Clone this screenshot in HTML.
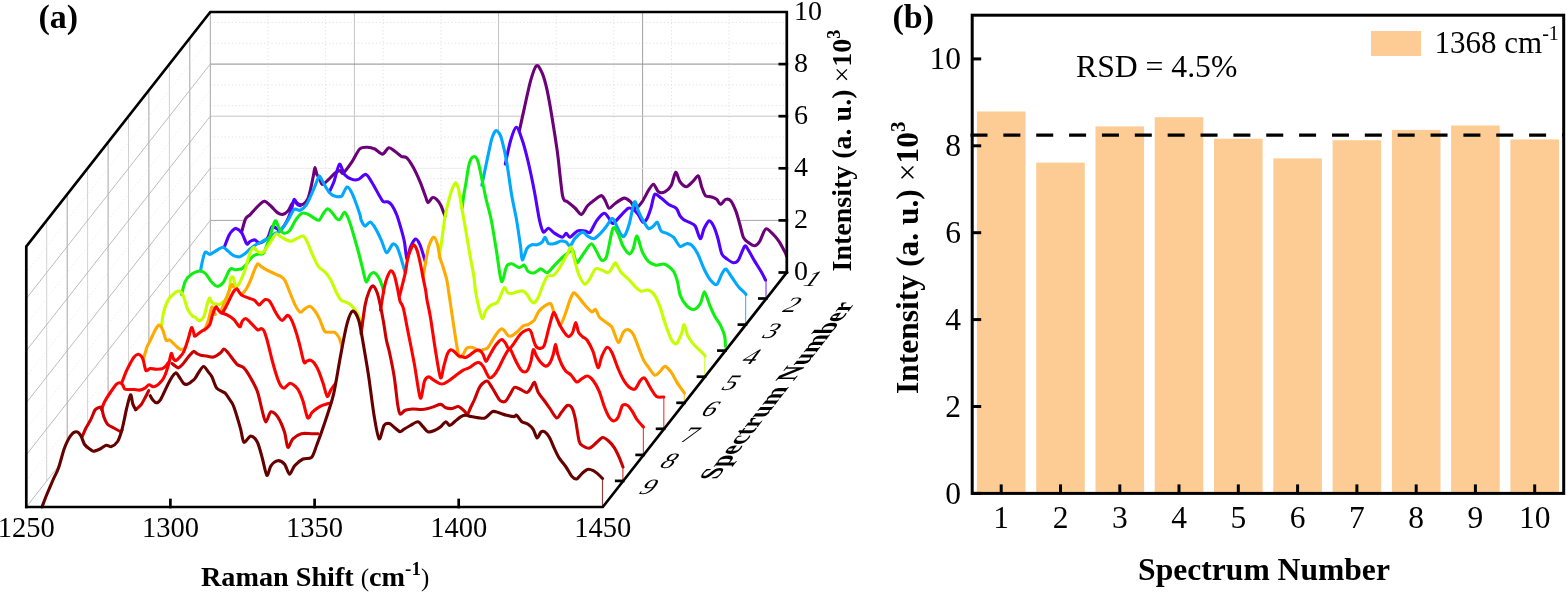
<!DOCTYPE html><html><head><meta charset="utf-8"><title>Raman spectra</title><style>html,body{margin:0;padding:0;background:#fff;}svg{display:block;}text{font-family:'Liberation Serif','Times New Roman',serif;fill:#000;}</style></head><body>
<svg width="1567" height="592" viewBox="0 0 1567 592">
<rect width="1567" height="592" fill="#fff"/>
<g id="grid" stroke-width="1" fill="none">
<style>.mj{stroke:#a4a4a4;stroke-width:1}.lw{stroke:#d2d2d2;stroke-width:1}.lwd{stroke:#b4b4b4;stroke-width:0.9}.mn{stroke:#d9d9d9;stroke-width:0.8;stroke-dasharray:1.2 2.4}.mn2{stroke:#e6e6e6;stroke-width:0.8;stroke-dasharray:1.2 2.4}</style>
<line x1="267.9" y1="272.5" x2="267.9" y2="12" class="mn"/>
<line x1="325.6" y1="272.5" x2="325.6" y2="12" class="mn"/>
<line x1="383.2" y1="272.5" x2="383.2" y2="12" class="mn"/>
<line x1="440.9" y1="272.5" x2="440.9" y2="12" class="mn"/>
<line x1="556.2" y1="272.5" x2="556.2" y2="12" class="mn"/>
<line x1="613.8" y1="272.5" x2="613.8" y2="12" class="mn"/>
<line x1="671.5" y1="272.5" x2="671.5" y2="12" class="mn"/>
<line x1="729.1" y1="272.5" x2="729.1" y2="12" class="mn"/>
<line x1="210.3" y1="22.4" x2="786.8" y2="22.4" class="mn"/>
<line x1="210.3" y1="43.2" x2="786.8" y2="43.2" class="mn"/>
<line x1="210.3" y1="84.9" x2="786.8" y2="84.9" class="mn"/>
<line x1="210.3" y1="105.7" x2="786.8" y2="105.7" class="mn"/>
<line x1="210.3" y1="137" x2="786.8" y2="137" class="mn"/>
<line x1="210.3" y1="157.8" x2="786.8" y2="157.8" class="mn"/>
<line x1="210.3" y1="178.7" x2="786.8" y2="178.7" class="mn"/>
<line x1="210.3" y1="199.5" x2="786.8" y2="199.5" class="mn"/>
<line x1="210.3" y1="230.8" x2="786.8" y2="230.8" class="mn"/>
<line x1="210.3" y1="251.6" x2="786.8" y2="251.6" class="mn"/>
<line x1="354.4" y1="272.5" x2="354.4" y2="12" stroke="#c4c4c4"/>
<line x1="498.5" y1="272.5" x2="498.5" y2="12" stroke="#c4c4c4"/>
<line x1="642.6" y1="272.5" x2="642.6" y2="12" stroke="#a0a0a0"/>
<line x1="210.3" y1="220.4" x2="786.8" y2="220.4" stroke="#a6a6a6"/>
<line x1="210.3" y1="168.3" x2="786.8" y2="168.3" stroke="#ebebeb"/>
<line x1="210.3" y1="116.2" x2="786.8" y2="116.2" stroke="#c4c4c4"/>
<line x1="210.3" y1="64.1" x2="786.8" y2="64.1" stroke="#8e8e8e"/>
<line x1="210.3" y1="272.5" x2="210.3" y2="12" class="mj"/>
<line x1="189.8" y1="298.5" x2="189.8" y2="38" class="mj"/>
<line x1="169.4" y1="324.6" x2="169.4" y2="64.1" class="lw"/>
<line x1="148.9" y1="350.6" x2="148.9" y2="90.1" class="mj"/>
<line x1="128.5" y1="376.7" x2="128.5" y2="116.2" class="lw"/>
<line x1="108.1" y1="402.8" x2="108.1" y2="142.3" class="mj"/>
<line x1="87.6" y1="428.8" x2="87.6" y2="168.3" class="lw"/>
<line x1="67.2" y1="454.9" x2="67.2" y2="194.4" class="mj"/>
<line x1="46.7" y1="480.9" x2="46.7" y2="220.4" class="lw"/>
<line x1="26.3" y1="507" x2="210.3" y2="272.5" class="lwd"/>
<line x1="26.3" y1="480.9" x2="210.3" y2="246.4" class="mn2"/>
<line x1="26.3" y1="454.9" x2="210.3" y2="220.4" class="lwd"/>
<line x1="26.3" y1="428.9" x2="210.3" y2="194.3" class="mn2"/>
<line x1="26.3" y1="402.8" x2="210.3" y2="168.3" class="lwd"/>
<line x1="26.3" y1="376.8" x2="210.3" y2="142.2" class="mn2"/>
<line x1="26.3" y1="350.7" x2="210.3" y2="116.2" class="lwd"/>
<line x1="26.3" y1="324.6" x2="210.3" y2="90.1" class="mn2"/>
<line x1="26.3" y1="298.6" x2="210.3" y2="64.1" class="lwd"/>
<line x1="26.3" y1="272.5" x2="210.3" y2="38" class="mn2"/>
</g>
<g id="fills" fill="#fff" stroke="none">
<polygon points="241.8,272.5 241.8,231.4 245.6,218.7 250,214.8 257.6,206.5 264.4,201.2 271.3,206.5 277.4,212.6 282.7,214.4 288,211 291.8,204.2 294.8,201.2 298.6,204.2 303.2,204.2 307.8,198.9 310.8,188.2 313.5,175 315,167.5 316.9,174.6 319,177 322.2,184.4 329,179.1 335.1,173 340,170.6 343.2,173.1 352.1,161.7 359.7,149 367.3,147.2 374.9,149 382.5,154.1 388.8,147.7 395.2,151.5 401.4,156.5 406.5,157.7 412.8,166.6 420.4,182.7 425.6,196.8 428.1,202.7 432.4,197.6 436.6,199.3 440.8,205.2 445,216.2 519.3,131.1 524.3,108.3 530.7,80.4 536.5,65.7 542.1,72.8 547.2,90.6 552.2,118.4 557.3,151.4 560,175 562.4,195 564.5,200.5 567.4,201.7 575,208 581.4,214.4 587.6,205.7 595.2,199.4 601.5,195.6 605.3,200.7 609.1,208.3 615.5,203.2 624.3,198.1 630.7,201.9 635.7,208.3 642.1,201.9 648.4,190.5 653.5,184.2 658.5,191.8 664.9,191.8 671.2,185.5 675.7,172.3 680,181.7 686.4,186.7 692.7,181.7 698.3,175.8 701.6,186.7 705.4,195.6 711.7,196.9 716.8,199.4 720.6,204.5 725.6,199.4 730.7,200.7 735.8,210.8 739.6,223.5 743.4,237.4 748.4,242.5 754.8,245.7 759.8,241.2 765.7,229 772.5,233.6 778.8,241.2 785.2,252.6 786.5,256 786.8,256 786.8,272.5"/>
<polygon points="224.2,298.5 224.2,247.3 228.9,235.5 232,231 236,228.4 241.9,233.1 246.7,243.8 250,241.5 254.6,239.9 259.1,243 264,241 268.2,236.9 271.3,227.8 272.8,226.2 276,228 280.4,230 286.5,221.7 291,211 294.1,199.6 297.1,204.2 300.2,205.7 329.3,192.1 334.3,180.7 339.4,164.2 344.5,174.4 352.1,179.4 358.4,179.4 366,174.4 372.4,183.2 380,196.8 383.4,201.8 387.6,201.8 391.8,205.2 396.9,215.3 401.1,228.9 404.5,242.4 407,259.3 410.4,247.4 415.5,239 419.7,244.1 423.1,254.2 425.6,262.6 505.3,164.1 510.4,141.3 516.2,127.3 521.8,138.7 528.1,161.5 534.5,192 539.6,220.7 543.4,232.1 548.4,228.3 554.8,233.4 562.4,237.2 566.2,233.4 570,237.2 577.6,230.8 585.1,231.1 590.1,232.3 596.5,220.9 604.1,213.3 609.1,218.4 612.9,223.5 620.5,215.9 628.1,208.3 633.2,209.5 638.3,214.6 642.8,222.2 647.1,218.4 650.9,208.3 654.7,194.3 661.1,198.1 668.7,204.5 676.3,208.3 680,215.9 683.8,219.7 688.9,222.2 695.2,226 700.3,238.7 704.1,228.5 709.2,220.9 714.2,227.3 718,238.7 721.8,253.9 726.9,258.9 733.2,262.7 738.3,260.2 744.6,246.3 748.4,250.1 754.8,261.4 761.1,271.6 765.5,280 766.3,280 766.3,298.5"/>
<polygon points="200.5,324.6 200.5,271 202.9,259.1 205.3,252 210,254.4 215.9,250.9 223,247.3 227.8,250.9 233.7,255.6 239.6,256.8 245.5,253.2 250,249 256.1,244.5 262.2,241.5 268.2,238.4 274,234 280.4,230.8 288,220.2 294.1,209.5 300.2,210.3 306.2,205 310.8,195.8 315.4,185.2 319.2,176.1 323,182.2 327.5,189.8 332.1,195.1 336.7,196.6 340,196.6 342,195.9 347,187 352.1,193.4 359.7,213.7 361.1,220 365.1,226.1 370.2,222 375.3,228.1 381.4,240.3 386.6,252.8 392.7,244.1 396.9,246.6 400.3,255.9 402.8,264.3 405.3,272.8 481.8,185.2 485,170 488.9,151.4 492,138 496,130.6 499,133 501.5,138.7 506.6,161.5 511.7,195.3 516.7,220.7 520.5,246 522.3,260 526.9,248.6 532,244.8 537,244.8 542.1,242.2 545.1,237.2 548.4,243.5 554.8,243.5 561.1,241 566.2,242.2 570,246 575,238.4 582.7,232.1 587.6,236.1 593.9,238.7 600.3,233.6 606.6,226 612.4,218.4 616.7,226 620.5,233.6 624.3,236.1 629.4,223.5 634.5,201.9 638.3,210.8 643.3,220.9 648.4,228.5 653.5,226 657.3,222.2 661.1,231.1 667.4,233.6 673.7,237.4 680,246.3 686.4,243.7 691.5,245 697.8,253.9 704.1,269 710.4,280 716.8,284.5 721.8,274 725.8,269 732,277.5 738.5,286.7 744.8,293 745.9,294.5 745.9,294.5 745.9,324.6"/>
<polygon points="181.6,350.6 181.6,294.6 185.2,281.6 191.1,274.5 199.4,271 205.3,273.3 211.2,281.6 217.1,286.3 223,282.8 228.9,271 231.3,268.6 234.8,269.8 238,269.4 241.9,268.6 246.7,263.9 250,259.1 255,255 259,254 263.7,252.9 269.8,236.9 275.1,220.9 278.9,227.8 283.4,233.1 289.5,230.8 295.6,220.2 301.7,213.3 307.8,214.1 313.8,217.9 319.2,220.2 323,214.1 327.5,208.8 332.1,212.6 336.7,218.6 340,219.4 344.5,212.4 348.9,220 354,236.2 359.1,254.5 363.1,270.7 366.2,281.8 370.2,274.7 374.3,272.7 379.3,278.8 382.4,286.9 383.8,293 462.2,208 463.5,197 466,182.7 468.6,166.6 471,159 474.2,156.5 477,159 478.7,164.1 482.5,181.8 486.3,200 491.4,220.7 496.5,251.1 501.5,281.5 506.6,266.3 511.7,263.8 519.3,267.6 524.3,265.1 528.1,271.4 534.5,272.7 540.8,268.9 547.2,272.7 554.8,265.1 562.4,257.5 568.7,252.4 572.5,249.8 576.3,262.5 580,258.9 585.1,251.3 591.4,243.7 596.5,251.3 601.5,260.2 606.6,256.4 612.9,228.5 618,233.6 623.1,246.3 629.4,253.9 633.2,248.8 637,236.1 642.1,251.3 648.4,261.4 656,265.2 663.6,264 668.7,266.5 673.7,271.6 677.5,281.7 680.3,295.5 686.6,305.6 694.2,309.4 700.6,303.1 704.4,291.7 709.4,304.3 714.5,315.7 720.8,325.9 724.6,336 725.4,346 725.4,346 725.4,350.6"/>
<polygon points="161.5,376.7 161.5,325.4 163.9,311.2 168.6,299.4 175.7,292.3 179.3,291.1 182.8,294.6 187.5,308.8 192.3,315.9 195.2,317.3 199.4,320.7 204.1,315.9 207.5,303 209.6,297.9 211.5,301.7 213.8,303.8 217.1,304.1 219.7,304.6 223,301.7 224.8,300.4 228.9,292.3 230.7,278.5 233.2,277.6 235.8,286.9 239.2,283.5 243.4,274.2 245.5,268.6 250,253 253.8,247.5 256.8,251 262.1,252.9 265,250 269.8,243 276,234 280,236.2 285.1,239.3 291.1,241.3 297.2,238.2 303.3,236 307.4,242.3 312.4,254.5 318.5,266.6 325.6,272.7 330.7,279.8 335.7,291 340.8,300.1 345.9,302.1 351,305.1 356,311.2 360.1,319.3 362.7,325.8 439.1,257.6 441.7,240.7 445,217 448.4,201.8 451.8,190 455.4,182.7 458.5,189 461.9,208.6 466.1,232.2 470.4,257.6 473.8,276.1 475.4,290 478.7,306.9 482.3,318.6 486.1,310.1 491.2,305.1 497.1,302.5 500.1,296.9 504.3,287.6 507.7,292.7 511.9,293.5 517,291.8 522.9,291 527.1,294.4 530.5,300.3 533.9,302.8 538.1,297.7 542.3,286.8 547.2,276.5 553.5,275.2 559.8,267.6 567.4,253.7 571.2,247.3 575,262 579,275 584.5,284 589,280 595.5,268.9 601.8,270.1 608.1,272.7 612,268 615.5,263 620.8,272 628.3,279 635.8,287.4 641,291.2 648,290 654.5,295 660,306.9 665.1,323.3 671.5,339.8 676.5,343.6 681.6,333.5 684.1,324.6 687.9,336 693,343.6 699.3,349.9 704.4,355 705,356 705,356 705,376.7"/>
<polygon points="143.4,402.8 143.4,359.3 146.8,347.4 150,341 154.1,332.2 158.1,325.6 160.6,326.1 163.2,331.1 166.2,340.3 169.3,339.8 172.8,342.8 176.3,346.3 180.4,349.4 184.4,348.9 204.5,330.5 208.5,319.9 211.9,307 213.9,311.8 215.3,314.5 220.7,311.8 224.1,303.6 227.4,295.5 231.5,284.7 233.5,287 241.6,294.9 246.4,288.8 250.4,280.7 254.5,269.9 257.8,263.8 261.2,266.5 266.6,269.9 275,273.9 281.4,276.8 285.1,280.8 290.1,293 295.2,305.1 300.3,312.2 304.3,309.2 309.4,306.2 314.2,310 319.7,319.3 324.4,331 329,332.3 334.6,332.3 339.2,337.9 342,347.2 423.1,277.8 426,260 429,245.7 433.7,237 437.4,244.1 440,257.6 443.3,267.7 446.7,279.5 448.4,290 452.4,316.9 455.7,338.9 459.1,356.6 463.3,354.1 466.7,348.1 470.9,347.3 474.7,348.4 479.5,351.3 483,349.6 487.7,347.8 492.5,340.1 497.2,333 501.3,328.9 504.3,330.6 507.8,335.4 511.4,336 517.3,331.8 523.2,325.9 527.9,324.7 531.5,322.4 534.4,320 538.9,311.3 545.7,305.3 550.7,303.6 553.3,310.4 558.5,322 560.5,325 565.1,314.5 569.8,300.4 573.7,292.8 578.5,297 584,304 591.7,311.9 595.5,309.4 599.3,317 605.6,322.1 611.9,327.1 618.3,342.3 623.3,332.2 628.4,329.7 633.5,334.7 638.5,347.4 643.6,360.1 648.7,367.6 655,375.2 660.1,371.4 665.1,366.4 671.5,372.7 676.5,381.6 681.6,389.2 684.4,393 684.6,393 684.6,402.8"/>
<polygon points="121.9,428.8 121.9,382.5 126,371.9 130,363.8 134.1,357 138.1,354.3 141.5,356.4 143.5,361.1 145.9,370.5 150,368.6 156,369.2 162,368.8 166.2,365.6 168,363 174.5,360 176.3,360.5 179.4,357.5 183.4,352.4 186.5,344.3 189,336.2 191.5,327.6 193.6,332.2 194.6,336.2 197.6,334.2 202.7,330.6 206.7,328.1 210,324.1 212.6,314.5 215.9,307 218.6,310.4 222,313.1 226.1,306.4 230.1,298.2 234.2,290.8 236.9,288.8 239.6,292.8 242.3,295.5 249.1,298.2 254.5,300.3 259.2,305 261.9,302.3 265.3,299.6 269.3,300.9 272.7,306.4 274.6,310.6 278.5,317 282.2,320.5 287.2,315.5 290.1,317.3 294.4,327 299.3,343.4 303.9,362 306.7,361.1 310.4,360.2 314.2,363 318.8,371.3 323.4,384.3 327.2,396.4 330.9,389.9 335.5,383.4 399.5,296 401.1,290 405.3,272.8 407.9,257.6 411.3,248.3 413.8,244.9 417.2,250.8 420.5,264.3 423.1,277.8 425.6,290 427,300 430.4,316.9 435.5,350.7 440.5,377.7 443.9,365.9 447.3,354.1 450.7,349.8 454.1,351.5 458.3,355.7 461.7,356.6 465.9,357.4 470,354.9 474.7,351.3 479.5,350.2 483,354.3 486,361.4 488.9,356.7 493.6,348.4 498.4,341.9 501.9,339.5 505.5,343.1 509,349 513.8,343.6 518.5,336.6 523.2,331.8 529.1,329.5 531.5,333 533.9,341.3 536.2,346.6 540,348.4 544,345.9 548.2,330.7 553.3,312.9 556.7,318 560,325.6 564.3,332.4 568.5,336.6 572.7,332.4 575.7,322.6 578.6,332.4 582.8,337 587,340 592.9,351.2 598,367.6 601.8,356.3 606.9,347.4 611.9,352.5 618.3,369 623,379 629,387 635,389 640,381 644.5,378 650.5,388 656.5,396.5 663.8,397 664.1,397 664.1,428.8"/>
<polygon points="101.6,454.9 101.6,409.7 104,403 107,397.6 112.4,389.5 116.5,384.1 119.9,382.7 122.6,384.7 124.6,388.8 128.6,389.5 134.1,389.5 139.5,390.1 144.9,388.1 148.9,384.7 153,386.8 157,385.4 160,382.7 163.4,378.5 166.4,371.4 169.2,362 171.3,353.4 173.3,358.5 174.5,360 222,313.1 228.8,315.8 234.2,319.9 238.2,325.3 240.3,326.6 242.3,321.2 245.7,318.5 249.1,321.2 253.1,325.3 257.8,330 261.2,328.6 263.9,330.7 267.6,342 272.6,362 277.7,379 281,386 284.5,388.1 289.5,383.4 293.7,385 298.4,389.9 303,401 307.7,417.8 312.3,412.2 319.7,406.6 327.2,403.8 330.9,402.9 380.5,310 384.4,286.9 387.4,276.8 391,270.7 394.5,275.7 397.6,288.9 400,301.1 403.4,308.4 408.4,333.8 414.4,364.2 420.3,398 424.5,381.1 428.7,376.9 433.8,380.2 439.7,383.6 443.9,383.6 450.7,379.4 457.4,374.3 463.3,370.1 467.6,368.4 470,367.3 474.7,363.8 478.9,362.6 483,366.1 486.6,373.2 489.5,377.9 493.6,375.6 498.4,368.5 503.1,359 507.8,350.7 510.2,349 513.8,356.7 517.3,363.8 520.8,369.7 524.4,372 527.9,369.7 530.9,361.4 533.3,349.6 536.2,355.5 540,361.4 545.7,366.1 549.9,362.8 553.3,354.3 555.5,344.2 557.8,354.3 561.7,364.5 565.9,371.2 571,375 576.5,382 581.4,379 587.3,376 593.3,380.7 599.2,391.3 603.9,405.5 608.6,416.2 613.4,420.9 618.1,417.3 622.4,405.5 627.6,405.5 632.3,411.4 637,419.7 643.4,427 643.7,427 643.7,454.9"/>
<polygon points="82.1,480.9 82.1,436.9 86,428 91,419.1 95,410 98.6,407.7 101.6,407.7 103.7,416.6 107.5,424.2 113.8,428 120.1,431.3 122,430 135.7,409.7 141.1,404.8 145.1,397.7 148.7,390.6 172,363.5 175.6,366.3 178.6,367.8 182.7,364.3 186,360 189.5,355.5 193.6,351.4 196.6,353.4 200.7,355.2 206.7,356 213.6,357 220.6,352.8 223.8,349 227,351.5 230.5,356 237.2,364.5 243.9,367.8 250.7,378 257.4,391.5 262.5,411.8 265.9,421.9 270.9,411.8 277.7,416.8 284.5,432 287.8,447.2 292.9,438.8 301.4,433.7 311.5,433.7 318.2,433.7 361.1,333.5 365.1,305.1 369.2,291 373.2,285.9 377.3,293 380.3,305.1 383.4,321.4 386.4,340 389.4,352 394.1,376 397.6,404 400.1,414.1 405.2,410.3 412.8,409 421.7,409.5 428,408.5 434.4,406.5 440.7,404.4 445.8,407.7 452.1,408.5 458.4,406.5 464.8,411.5 467.3,414.5 471.1,406.5 474.3,400 478.7,389 482,384 487.3,381.1 492,387.5 497,396 500,400.5 505.3,401.4 510.4,393.8 514.2,387.5 519.3,388.7 526.9,392.5 531,388 534.5,382.4 538.3,392.5 544.6,401 549.5,407.9 556.6,418 561.3,412.6 567.2,405.5 572,407.9 575.5,419.7 579.1,441 582.6,445.7 589.7,448.1 596.8,442.2 602.7,437.5 608.6,441 614.6,448.1 619.3,457.6 623,467 623.2,467 623.2,480.9"/>
<polygon points="42,507 42,507 47,494 53,480 58.5,468 64.4,448.3 70.7,435.6 76.3,431.8 80.8,435.6 84.6,444.5 89.7,449 93.5,451.2 100,449 106.2,445.3 111.3,446.6 117.6,441.5 121.4,431.8 124.4,419 126.5,409 130.5,394.8 132.8,403.9 135.7,409.7 150.2,395.7 152.7,399.8 156.3,402.8 160.4,399.8 165.4,389.6 170.5,379.5 175.6,372.9 179.6,377.5 183.7,383.5 187.3,384.2 191,382 194.9,378.6 199,372 203.6,366.5 208.9,372.6 212,377 216.5,387.8 222.5,391.6 225.3,393.2 230,400 233.8,406.7 240.5,428.6 243.9,442.2 250.7,436.1 257.4,442.2 262.5,459 266.9,475.3 270.9,465.8 277.7,460.7 284.5,464.1 289.5,474.3 294.6,465.8 303,459 311.5,457.4 316.6,445.5 325,421.9 333.4,394.9 340.2,357.7 347,323.9 352.7,311.1 358.8,320.5 363.9,347.6 368.9,378 374,415.1 379.1,438.8 384.1,425.3 389.2,423.6 395.1,428 400.1,431.8 403.9,429.3 410.3,425.5 417.9,421.7 423,426.7 428,431.8 434.4,430.5 440.7,426.7 445.8,421.7 449.6,425.5 454.6,421.7 461,416.6 466,415.3 471.1,416.6 478.7,417.9 485.1,417.9 492.7,411.5 499,412.8 506.6,415.3 514.2,416.6 516.7,415.3 521.8,421.7 528.1,424.2 533.2,429.3 537,438 541,432 545,432 549.5,437.5 554.2,448.1 558.9,457.6 566,467 572,476.5 576.7,478.9 581.4,474.1 587.3,469.4 593.3,470.6 598,474.1 602.5,478.5 602.8,478.5 602.8,507"/>
</g>
<g id="drops" stroke-width="1.2" fill="none">
<line x1="786.5" y1="256" x2="786.5" y2="272.5" stroke="#6c0078" stroke-opacity="0.75"/>
<line x1="766" y1="280" x2="766" y2="298.5" stroke="#5200ff" stroke-opacity="0.75"/>
<line x1="745.6" y1="294.5" x2="745.6" y2="324.6" stroke="#00a8ff" stroke-opacity="0.75"/>
<line x1="725.1" y1="346" x2="725.1" y2="350.6" stroke="#10f010" stroke-opacity="0.75"/>
<line x1="704.7" y1="356" x2="704.7" y2="376.7" stroke="#c4ff00" stroke-opacity="0.75"/>
<line x1="684.3" y1="393" x2="684.3" y2="402.8" stroke="#ffaa00" stroke-opacity="0.75"/>
<line x1="663.8" y1="397" x2="663.8" y2="428.8" stroke="#ff0000" stroke-opacity="0.75"/>
<line x1="643.4" y1="427" x2="643.4" y2="454.9" stroke="#ff0000" stroke-opacity="0.75"/>
<line x1="622.9" y1="467" x2="622.9" y2="480.9" stroke="#cc0000" stroke-opacity="0.75"/>
<line x1="602.5" y1="478.5" x2="602.5" y2="507" stroke="#660000" stroke-opacity="0.75"/>
</g>
<g id="lines" fill="none" stroke-width="3.1" stroke-linejoin="round" stroke-linecap="round">
<path d="M241.8,231.4C242.3,229.6 244.4,221.1 245.6,218.7C246.8,216.3 248.3,216.5 250,214.8C251.7,213.1 255.6,208.4 257.6,206.5C259.6,204.6 262.5,201.2 264.4,201.2C266.3,201.2 269.5,204.9 271.3,206.5C273.1,208.1 275.8,211.5 277.4,212.6C279,213.7 281.2,214.6 282.7,214.4C284.2,214.2 286.7,212.4 288,211C289.3,209.6 290.8,205.6 291.8,204.2C292.8,202.8 293.8,201.2 294.8,201.2C295.8,201.2 297.4,203.8 298.6,204.2C299.8,204.6 301.9,205 303.2,204.2C304.5,203.4 306.7,201.2 307.8,198.9C308.9,196.6 310,191.6 310.8,188.2C311.6,184.8 312.9,177.9 313.5,175C314.1,172.1 314.5,167.6 315,167.5C315.5,167.4 316.3,173.3 316.9,174.6C317.5,175.9 318.2,175.6 319,177C319.8,178.4 320.8,184.1 322.2,184.4C323.6,184.7 327.2,180.7 329,179.1C330.8,177.5 333.5,174.2 335.1,173C336.7,171.8 338.9,170.6 340,170.6C341.1,170.6 341.5,174.4 343.2,173.1C344.9,171.8 349.8,165.1 352.1,161.7C354.4,158.3 357.5,151.1 359.7,149C361.9,146.9 365.1,147.2 367.3,147.2C369.5,147.2 372.7,148 374.9,149C377.1,150 380.5,154.3 382.5,154.1C384.5,153.9 387,148.1 388.8,147.7C390.6,147.3 393.4,150.3 395.2,151.5C397,152.7 399.8,155.6 401.4,156.5C403,157.4 404.9,156.3 406.5,157.7C408.1,159.1 410.8,163.1 412.8,166.6C414.8,170.1 418.6,178.4 420.4,182.7C422.2,187 424.5,194 425.6,196.8C426.7,199.6 427.1,202.6 428.1,202.7C429.1,202.8 431.2,198.1 432.4,197.6C433.6,197.1 435.4,198.2 436.6,199.3C437.8,200.4 439.6,202.8 440.8,205.2C442,207.6 444.4,214.6 445,216.2" stroke="#6c0078"/>
<path d="M519.3,131.1C520,127.9 522.7,115.5 524.3,108.3C525.9,101.1 529,86.4 530.7,80.4C532.4,74.4 534.9,66.8 536.5,65.7C538.1,64.6 540.6,69.3 542.1,72.8C543.6,76.3 545.8,84.1 547.2,90.6C548.6,97.1 550.8,109.8 552.2,118.4C553.6,127 556.2,143.4 557.3,151.4C558.4,159.4 559.3,168.8 560,175C560.7,181.2 561.8,191.4 562.4,195C563,198.6 563.8,199.6 564.5,200.5C565.2,201.4 565.9,200.6 567.4,201.7C568.9,202.8 573,206.2 575,208C577,209.8 579.6,214.7 581.4,214.4C583.2,214.1 585.6,207.8 587.6,205.7C589.6,203.6 593.2,200.8 595.2,199.4C597.2,198 600.1,195.4 601.5,195.6C602.9,195.8 604.2,198.9 605.3,200.7C606.4,202.5 607.7,207.9 609.1,208.3C610.5,208.7 613.3,204.6 615.5,203.2C617.7,201.8 622.1,198.3 624.3,198.1C626.5,197.9 629.1,200.5 630.7,201.9C632.3,203.3 634.1,208.3 635.7,208.3C637.3,208.3 640.3,204.4 642.1,201.9C643.9,199.4 646.8,193 648.4,190.5C650,188 652.1,184 653.5,184.2C654.9,184.4 656.9,190.7 658.5,191.8C660.1,192.9 663.1,192.7 664.9,191.8C666.7,190.9 669.7,188.3 671.2,185.5C672.7,182.7 674.5,172.8 675.7,172.3C676.9,171.8 678.5,179.7 680,181.7C681.5,183.7 684.6,186.7 686.4,186.7C688.2,186.7 691,183.2 692.7,181.7C694.4,180.2 697,175.1 698.3,175.8C699.6,176.5 700.6,183.9 701.6,186.7C702.6,189.5 704,194.2 705.4,195.6C706.8,197 710.1,196.4 711.7,196.9C713.3,197.4 715.5,198.3 716.8,199.4C718.1,200.5 719.4,204.5 720.6,204.5C721.8,204.5 724.2,199.9 725.6,199.4C727,198.9 729.3,199.1 730.7,200.7C732.1,202.3 734.5,207.6 735.8,210.8C737.1,214 738.5,219.7 739.6,223.5C740.7,227.3 742.2,234.7 743.4,237.4C744.6,240.1 746.8,241.3 748.4,242.5C750,243.7 753.2,245.9 754.8,245.7C756.4,245.5 758.3,243.6 759.8,241.2C761.3,238.8 763.9,230.1 765.7,229C767.5,227.9 770.6,231.9 772.5,233.6C774.4,235.3 777,238.5 778.8,241.2C780.6,243.9 784.1,250.5 785.2,252.6C786.3,254.7 786.3,255.5 786.5,256" stroke="#6c0078"/>
<path d="M224.2,247.3C224.9,245.6 227.8,237.8 228.9,235.5C230,233.2 231,232 232,231C233,230 234.6,228.1 236,228.4C237.4,228.7 240.4,230.9 241.9,233.1C243.4,235.3 245.6,242.6 246.7,243.8C247.8,245 248.9,242.1 250,241.5C251.1,240.9 253.3,239.7 254.6,239.9C255.9,240.1 257.8,242.8 259.1,243C260.4,243.2 262.7,241.9 264,241C265.3,240.1 267.2,238.8 268.2,236.9C269.2,235 270.6,229.3 271.3,227.8C272,226.3 272.1,226.2 272.8,226.2C273.5,226.2 274.9,227.5 276,228C277.1,228.5 278.9,230.9 280.4,230C281.9,229.1 285,224.4 286.5,221.7C288,219 289.9,214.1 291,211C292.1,207.9 293.2,200.6 294.1,199.6C295,198.6 296.2,203.3 297.1,204.2C298,205.1 299.8,205.5 300.2,205.7" stroke="#5200ff"/>
<path d="M329.3,192.1C330,190.5 332.9,184.7 334.3,180.7C335.7,176.7 338,165.1 339.4,164.2C340.8,163.3 342.7,172.2 344.5,174.4C346.3,176.6 350.1,178.7 352.1,179.4C354.1,180.1 356.4,180.1 358.4,179.4C360.4,178.7 364,173.9 366,174.4C368,174.9 370.4,180 372.4,183.2C374.4,186.4 378.4,194.2 380,196.8C381.6,199.4 382.3,201.1 383.4,201.8C384.5,202.5 386.4,201.3 387.6,201.8C388.8,202.3 390.5,203.3 391.8,205.2C393.1,207.1 395.6,211.9 396.9,215.3C398.2,218.7 400,225.1 401.1,228.9C402.2,232.7 403.7,238.1 404.5,242.4C405.3,246.7 406.2,258.6 407,259.3C407.8,260 409.2,250.3 410.4,247.4C411.6,244.5 414.2,239.5 415.5,239C416.8,238.5 418.6,241.9 419.7,244.1C420.8,246.3 422.3,251.6 423.1,254.2C423.9,256.8 425.2,261.4 425.6,262.6" stroke="#5200ff"/>
<path d="M505.3,164.1C506,160.9 508.9,146.5 510.4,141.3C511.9,136.1 514.6,127.7 516.2,127.3C517.8,126.9 520.1,133.9 521.8,138.7C523.5,143.5 526.3,153.9 528.1,161.5C529.9,169.1 532.9,183.6 534.5,192C536.1,200.4 538.3,215 539.6,220.7C540.9,226.4 542.2,231 543.4,232.1C544.6,233.2 546.8,228.1 548.4,228.3C550,228.5 552.8,232.1 554.8,233.4C556.8,234.7 560.8,237.2 562.4,237.2C564,237.2 565.1,233.4 566.2,233.4C567.3,233.4 568.4,237.6 570,237.2C571.6,236.8 575.5,231.7 577.6,230.8C579.7,229.9 583.3,230.9 585.1,231.1C586.9,231.3 588.5,233.7 590.1,232.3C591.7,230.9 594.5,223.6 596.5,220.9C598.5,218.2 602.3,213.7 604.1,213.3C605.9,212.9 607.9,217 609.1,218.4C610.3,219.8 611.3,223.9 612.9,223.5C614.5,223.1 618.3,218.1 620.5,215.9C622.7,213.7 626.3,209.2 628.1,208.3C629.9,207.4 631.8,208.6 633.2,209.5C634.6,210.4 636.9,212.8 638.3,214.6C639.7,216.4 641.6,221.7 642.8,222.2C644,222.7 646,220.4 647.1,218.4C648.2,216.4 649.8,211.7 650.9,208.3C652,204.9 653.3,195.7 654.7,194.3C656.1,192.9 659.1,196.7 661.1,198.1C663.1,199.5 666.5,203.1 668.7,204.5C670.9,205.9 674.7,206.7 676.3,208.3C677.9,209.9 678.9,214.3 680,215.9C681.1,217.5 682.5,218.8 683.8,219.7C685.1,220.6 687.3,221.3 688.9,222.2C690.5,223.1 693.6,223.7 695.2,226C696.8,228.3 699,238.3 700.3,238.7C701.6,239.1 702.8,231 704.1,228.5C705.4,226 707.8,221.1 709.2,220.9C710.6,220.7 713,224.8 714.2,227.3C715.4,229.8 716.9,234.9 718,238.7C719.1,242.5 720.5,251 721.8,253.9C723.1,256.8 725.3,257.7 726.9,258.9C728.5,260.1 731.6,262.5 733.2,262.7C734.8,262.9 736.7,262.5 738.3,260.2C739.9,257.9 743.2,247.7 744.6,246.3C746,244.9 747,248 748.4,250.1C749.8,252.2 753,258.4 754.8,261.4C756.6,264.4 759.6,269 761.1,271.6C762.6,274.2 764.9,278.8 765.5,280" stroke="#5200ff"/>
<path d="M200.5,271C200.8,269.3 202.2,261.8 202.9,259.1C203.6,256.4 204.3,252.7 205.3,252C206.3,251.3 208.5,254.6 210,254.4C211.5,254.2 214.1,251.9 215.9,250.9C217.7,249.9 221.3,247.3 223,247.3C224.7,247.3 226.3,249.7 227.8,250.9C229.3,252.1 232,254.8 233.7,255.6C235.4,256.4 237.9,257.1 239.6,256.8C241.3,256.5 244,254.3 245.5,253.2C247,252.1 248.5,250.2 250,249C251.5,247.8 254.4,245.6 256.1,244.5C257.8,243.4 260.5,242.4 262.2,241.5C263.9,240.6 266.5,239.5 268.2,238.4C269.9,237.3 272.3,235.1 274,234C275.7,232.9 278.4,232.8 280.4,230.8C282.4,228.8 286.1,223.2 288,220.2C289.9,217.2 292.4,210.9 294.1,209.5C295.8,208.1 298.5,210.9 300.2,210.3C301.9,209.7 304.7,207.1 306.2,205C307.7,202.9 309.5,198.6 310.8,195.8C312.1,193 314.2,188 315.4,185.2C316.6,182.4 318.1,176.5 319.2,176.1C320.3,175.7 321.8,180.3 323,182.2C324.2,184.1 326.2,188 327.5,189.8C328.8,191.6 330.8,194.1 332.1,195.1C333.4,196.1 335.6,196.4 336.7,196.6C337.8,196.8 339.2,196.7 340,196.6C340.8,196.5 341,197.3 342,195.9C343,194.5 345.6,187.4 347,187C348.4,186.6 350.3,189.6 352.1,193.4C353.9,197.2 358.4,209.9 359.7,213.7C361,217.5 360.3,218.2 361.1,220C361.9,221.8 363.8,225.8 365.1,226.1C366.4,226.4 368.8,221.7 370.2,222C371.6,222.3 373.7,225.5 375.3,228.1C376.9,230.7 379.8,236.8 381.4,240.3C383,243.8 385,252.3 386.6,252.8C388.2,253.3 391.2,245 392.7,244.1C394.2,243.2 395.8,244.9 396.9,246.6C398,248.3 399.5,253.4 400.3,255.9C401.1,258.4 402.1,261.9 402.8,264.3C403.5,266.7 404.9,271.6 405.3,272.8" stroke="#00a8ff"/>
<path d="M481.8,185.2C482.3,183 484,174.8 485,170C486,165.2 487.9,155.9 488.9,151.4C489.9,146.9 491,140.9 492,138C493,135.1 495,131.3 496,130.6C497,129.9 498.2,131.9 499,133C499.8,134.1 500.4,134.7 501.5,138.7C502.6,142.7 505.2,153.5 506.6,161.5C508,169.5 510.3,186.9 511.7,195.3C513.1,203.7 515.5,213.5 516.7,220.7C517.9,227.9 519.7,240.4 520.5,246C521.3,251.6 521.4,259.6 522.3,260C523.2,260.4 525.5,250.8 526.9,248.6C528.3,246.4 530.6,245.3 532,244.8C533.4,244.3 535.6,245.2 537,244.8C538.4,244.4 541,243.3 542.1,242.2C543.2,241.1 544.2,237 545.1,237.2C546,237.4 547,242.6 548.4,243.5C549.8,244.4 553,243.9 554.8,243.5C556.6,243.1 559.5,241.2 561.1,241C562.7,240.8 564.9,241.5 566.2,242.2C567.5,242.9 568.8,246.5 570,246C571.2,245.5 573.2,240.4 575,238.4C576.8,236.4 580.9,232.4 582.7,232.1C584.5,231.8 586,235.2 587.6,236.1C589.2,237 592.1,239.1 593.9,238.7C595.7,238.3 598.5,235.4 600.3,233.6C602.1,231.8 604.9,228.2 606.6,226C608.3,223.8 611,218.4 612.4,218.4C613.8,218.4 615.6,223.8 616.7,226C617.8,228.2 619.4,232.2 620.5,233.6C621.6,235 623,237.5 624.3,236.1C625.6,234.7 628,228.3 629.4,223.5C630.8,218.7 633.2,203.7 634.5,201.9C635.8,200.1 637.1,208.1 638.3,210.8C639.5,213.5 641.9,218.4 643.3,220.9C644.7,223.4 647,227.8 648.4,228.5C649.8,229.2 652.2,226.9 653.5,226C654.8,225.1 656.2,221.5 657.3,222.2C658.4,222.9 659.7,229.5 661.1,231.1C662.5,232.7 665.6,232.7 667.4,233.6C669.2,234.5 671.9,235.6 673.7,237.4C675.5,239.2 678.2,245.4 680,246.3C681.8,247.2 684.8,243.9 686.4,243.7C688,243.5 689.9,243.6 691.5,245C693.1,246.4 696,250.5 697.8,253.9C699.6,257.3 702.3,265.3 704.1,269C705.9,272.7 708.6,277.8 710.4,280C712.2,282.2 715.2,285.4 716.8,284.5C718.4,283.6 720.5,276.2 721.8,274C723.1,271.8 724.4,268.5 725.8,269C727.2,269.5 730.2,275 732,277.5C733.8,280 736.7,284.5 738.5,286.7C740.3,288.9 743.8,291.9 744.8,293C745.8,294.1 745.7,294.3 745.9,294.5" stroke="#00a8ff"/>
<path d="M181.6,294.6C182.1,292.8 183.9,284.4 185.2,281.6C186.5,278.8 189.1,276 191.1,274.5C193.1,273 197.4,271.2 199.4,271C201.4,270.8 203.6,271.8 205.3,273.3C207,274.8 209.5,279.8 211.2,281.6C212.9,283.4 215.4,286.1 217.1,286.3C218.8,286.5 221.3,285 223,282.8C224.7,280.6 227.7,273 228.9,271C230.1,269 230.5,268.8 231.3,268.6C232.1,268.4 233.9,269.7 234.8,269.8C235.7,269.9 237,269.6 238,269.4C239,269.2 240.7,269.4 241.9,268.6C243.1,267.8 245.6,265.2 246.7,263.9C247.8,262.6 248.8,260.4 250,259.1C251.2,257.8 253.7,255.7 255,255C256.3,254.3 257.8,254.3 259,254C260.2,253.7 262.2,255.3 263.7,252.9C265.2,250.5 268.2,241.4 269.8,236.9C271.4,232.4 273.8,222.2 275.1,220.9C276.4,219.6 277.7,226.1 278.9,227.8C280.1,229.5 281.9,232.7 283.4,233.1C284.9,233.5 287.8,232.6 289.5,230.8C291.2,229 293.9,222.7 295.6,220.2C297.3,217.7 300,214.2 301.7,213.3C303.4,212.4 306.1,213.4 307.8,214.1C309.5,214.8 312.2,217 313.8,217.9C315.4,218.8 317.9,220.7 319.2,220.2C320.5,219.7 321.8,215.7 323,214.1C324.2,212.5 326.2,209 327.5,208.8C328.8,208.6 330.8,211.2 332.1,212.6C333.4,214 335.6,217.6 336.7,218.6C337.8,219.6 338.9,220.3 340,219.4C341.1,218.5 343.2,212.3 344.5,212.4C345.8,212.5 347.6,216.6 348.9,220C350.2,223.4 352.6,231.3 354,236.2C355.4,241.1 357.8,249.6 359.1,254.5C360.4,259.4 362.1,266.8 363.1,270.7C364.1,274.6 365.2,281.2 366.2,281.8C367.2,282.4 369.1,276 370.2,274.7C371.3,273.4 373,272.1 374.3,272.7C375.6,273.3 378.2,276.8 379.3,278.8C380.4,280.8 381.8,284.9 382.4,286.9C383,288.9 383.6,292.1 383.8,293" stroke="#10f010"/>
<path d="M462.2,208C462.4,206.4 463,200.6 463.5,197C464,193.4 465.3,187 466,182.7C466.7,178.4 467.9,170 468.6,166.6C469.3,163.2 470.2,160.4 471,159C471.8,157.6 473.3,156.5 474.2,156.5C475.1,156.5 476.4,157.9 477,159C477.6,160.1 477.9,160.9 478.7,164.1C479.5,167.3 481.4,176.7 482.5,181.8C483.6,186.9 485,194.5 486.3,200C487.6,205.5 490,213.5 491.4,220.7C492.8,227.9 495.1,242.5 496.5,251.1C497.9,259.7 500.1,279.3 501.5,281.5C502.9,283.7 505.2,268.8 506.6,266.3C508,263.8 509.9,263.6 511.7,263.8C513.5,264 517.5,267.4 519.3,267.6C521.1,267.8 523.1,264.6 524.3,265.1C525.5,265.6 526.7,270.3 528.1,271.4C529.5,272.5 532.7,273.1 534.5,272.7C536.3,272.3 539,268.9 540.8,268.9C542.6,268.9 545.2,273.2 547.2,272.7C549.2,272.2 552.6,267.3 554.8,265.1C557,262.9 560.4,259.3 562.4,257.5C564.4,255.7 567.3,253.5 568.7,252.4C570.1,251.3 571.4,248.4 572.5,249.8C573.6,251.2 575.2,261.2 576.3,262.5C577.4,263.8 578.8,260.5 580,258.9C581.2,257.3 583.5,253.5 585.1,251.3C586.7,249.1 589.8,243.7 591.4,243.7C593,243.7 595.1,249 596.5,251.3C597.9,253.6 600.1,259.5 601.5,260.2C602.9,260.9 605,260.9 606.6,256.4C608.2,251.9 611.3,231.7 612.9,228.5C614.5,225.3 616.6,231.1 618,233.6C619.4,236.1 621.5,243.4 623.1,246.3C624.7,249.2 628,253.5 629.4,253.9C630.8,254.3 632.1,251.3 633.2,248.8C634.3,246.3 635.7,235.7 637,236.1C638.3,236.5 640.5,247.7 642.1,251.3C643.7,254.9 646.4,259.4 648.4,261.4C650.4,263.4 653.8,264.8 656,265.2C658.2,265.6 661.8,263.8 663.6,264C665.4,264.2 667.3,265.4 668.7,266.5C670.1,267.6 672.5,269.4 673.7,271.6C674.9,273.8 676.6,278.3 677.5,281.7C678.4,285.1 679,292.1 680.3,295.5C681.6,298.9 684.6,303.6 686.6,305.6C688.6,307.6 692.2,309.8 694.2,309.4C696.2,309 699.2,305.6 700.6,303.1C702,300.6 703.2,291.5 704.4,291.7C705.6,291.9 708,300.9 709.4,304.3C710.8,307.7 712.9,312.6 714.5,315.7C716.1,318.8 719.4,323 720.8,325.9C722.2,328.8 723.9,333.2 724.6,336C725.3,338.8 725.3,344.6 725.4,346" stroke="#10f010"/>
<path d="M161.5,325.4C161.8,323.4 162.9,314.9 163.9,311.2C164.9,307.5 166.9,302.1 168.6,299.4C170.3,296.7 174.2,293.5 175.7,292.3C177.2,291.1 178.3,290.8 179.3,291.1C180.3,291.4 181.6,292.1 182.8,294.6C184,297.1 186.2,305.8 187.5,308.8C188.8,311.8 191.2,314.7 192.3,315.9C193.4,317.1 194.2,316.6 195.2,317.3C196.2,318 198.1,320.9 199.4,320.7C200.7,320.5 203,318.4 204.1,315.9C205.2,313.4 206.7,305.6 207.5,303C208.3,300.4 209,298.1 209.6,297.9C210.2,297.7 210.9,300.9 211.5,301.7C212.1,302.5 213,303.5 213.8,303.8C214.6,304.1 216.3,304 217.1,304.1C217.9,304.2 218.9,304.9 219.7,304.6C220.5,304.3 222.3,302.3 223,301.7C223.7,301.1 224,301.7 224.8,300.4C225.6,299.1 228.1,295.4 228.9,292.3C229.7,289.2 230.1,280.6 230.7,278.5C231.3,276.4 232.5,276.4 233.2,277.6C233.9,278.8 235,286.1 235.8,286.9C236.7,287.7 238.1,285.3 239.2,283.5C240.3,281.7 242.5,276.3 243.4,274.2C244.3,272.1 244.6,271.6 245.5,268.6C246.4,265.6 248.8,256 250,253C251.2,250 252.8,247.8 253.8,247.5C254.8,247.2 255.6,250.2 256.8,251C258,251.8 260.9,253 262.1,252.9C263.3,252.8 263.9,251.4 265,250C266.1,248.6 268.2,245.3 269.8,243C271.4,240.7 274.6,235 276,234C277.4,233 278.7,235.4 280,236.2C281.3,237 283.5,238.6 285.1,239.3C286.7,240 289.4,241.5 291.1,241.3C292.8,241.1 295.5,239 297.2,238.2C298.9,237.4 301.9,235.4 303.3,236C304.7,236.6 306.1,239.7 307.4,242.3C308.7,244.9 310.8,251.1 312.4,254.5C314,257.9 316.6,264 318.5,266.6C320.4,269.2 323.9,270.8 325.6,272.7C327.3,274.6 329.3,277.2 330.7,279.8C332.1,282.4 334.3,288.1 335.7,291C337.1,293.9 339.4,298.5 340.8,300.1C342.2,301.7 344.5,301.4 345.9,302.1C347.3,302.8 349.6,303.8 351,305.1C352.4,306.4 354.7,309.2 356,311.2C357.3,313.2 359.2,317.2 360.1,319.3C361,321.4 362.3,324.9 362.7,325.8" stroke="#c4ff00"/>
<path d="M439.1,257.6C439.5,255.2 440.9,246.5 441.7,240.7C442.5,234.9 444.1,222.5 445,217C445.9,211.5 447.4,205.6 448.4,201.8C449.4,198 450.8,192.7 451.8,190C452.8,187.3 454.5,182.8 455.4,182.7C456.3,182.6 457.6,185.3 458.5,189C459.4,192.7 460.8,202.5 461.9,208.6C463,214.7 464.9,225.3 466.1,232.2C467.3,239.1 469.3,251.4 470.4,257.6C471.5,263.8 473.1,271.5 473.8,276.1C474.5,280.7 474.7,285.6 475.4,290C476.1,294.4 477.7,302.8 478.7,306.9C479.7,311 481.3,318.1 482.3,318.6C483.3,319.1 484.8,312 486.1,310.1C487.4,308.2 489.6,306.2 491.2,305.1C492.8,304 495.8,303.7 497.1,302.5C498.4,301.3 499.1,299 500.1,296.9C501.1,294.8 503.2,288.2 504.3,287.6C505.4,287 506.6,291.9 507.7,292.7C508.8,293.5 510.6,293.6 511.9,293.5C513.2,293.4 515.4,292.2 517,291.8C518.6,291.4 521.5,290.6 522.9,291C524.3,291.4 526,293.1 527.1,294.4C528.2,295.7 529.5,299.1 530.5,300.3C531.5,301.5 532.8,303.2 533.9,302.8C535,302.4 536.9,300 538.1,297.7C539.3,295.4 541,289.8 542.3,286.8C543.6,283.8 545.6,278.1 547.2,276.5C548.8,274.9 551.7,276.5 553.5,275.2C555.3,273.9 557.8,270.6 559.8,267.6C561.8,264.6 565.8,256.6 567.4,253.7C569,250.8 570.1,246.1 571.2,247.3C572.3,248.5 573.9,258.1 575,262C576.1,265.9 577.7,271.9 579,275C580.3,278.1 583.1,283.3 584.5,284C585.9,284.7 587.4,282.1 589,280C590.6,277.9 593.7,270.3 595.5,268.9C597.3,267.5 600,269.6 601.8,270.1C603.6,270.6 606.7,273 608.1,272.7C609.5,272.4 611,269.4 612,268C613,266.6 614.3,262.4 615.5,263C616.7,263.6 619,269.7 620.8,272C622.6,274.3 626.2,276.8 628.3,279C630.4,281.2 634,285.7 635.8,287.4C637.6,289.1 639.3,290.8 641,291.2C642.7,291.6 646.1,289.5 648,290C649.9,290.5 652.8,292.6 654.5,295C656.2,297.4 658.5,302.9 660,306.9C661.5,310.9 663.5,318.6 665.1,323.3C666.7,328 669.9,336.9 671.5,339.8C673.1,342.7 675.1,344.5 676.5,343.6C677.9,342.7 680.5,336.2 681.6,333.5C682.7,330.8 683.2,324.2 684.1,324.6C685,325 686.6,333.3 687.9,336C689.2,338.7 691.4,341.6 693,343.6C694.6,345.6 697.7,348.3 699.3,349.9C700.9,351.5 703.6,354.1 704.4,355C705.2,355.9 704.9,355.9 705,356" stroke="#c4ff00"/>
<path d="M143.4,359.3C143.9,357.6 145.9,350 146.8,347.4C147.7,344.8 149,343.2 150,341C151,338.8 153,334.4 154.1,332.2C155.2,330 157.2,326.5 158.1,325.6C159,324.7 159.9,325.3 160.6,326.1C161.3,326.9 162.4,329.1 163.2,331.1C164,333.1 165.3,339.1 166.2,340.3C167.1,341.5 168.4,339.4 169.3,339.8C170.2,340.2 171.8,341.9 172.8,342.8C173.8,343.7 175.2,345.4 176.3,346.3C177.4,347.2 179.3,349 180.4,349.4C181.5,349.8 183.8,349 184.4,348.9" stroke="#ffaa00"/>
<path d="M204.5,330.5C205.1,329 207.5,323.2 208.5,319.9C209.5,316.6 211.1,308.1 211.9,307C212.7,305.9 213.4,310.7 213.9,311.8C214.4,312.9 215.1,314.1 215.3,314.5" stroke="#ffaa00"/>
<path d="M220.7,311.8C221.2,310.6 223.2,305.9 224.1,303.6C225,301.3 226.4,298.2 227.4,295.5C228.4,292.8 230.6,285.9 231.5,284.7C232.4,283.5 233.2,286.7 233.5,287" stroke="#ffaa00"/>
<path d="M241.6,294.9C242.3,294 245.2,290.8 246.4,288.8C247.6,286.8 249.3,283.4 250.4,280.7C251.5,278 253.5,272.3 254.5,269.9C255.5,267.5 256.9,264.3 257.8,263.8C258.7,263.3 260,265.6 261.2,266.5C262.4,267.4 264.6,268.9 266.6,269.9C268.6,270.9 272.9,272.9 275,273.9C277.1,274.9 280,275.8 281.4,276.8C282.8,277.8 283.9,278.5 285.1,280.8C286.3,283.1 288.7,289.6 290.1,293C291.5,296.4 293.8,302.4 295.2,305.1C296.6,307.8 299,311.6 300.3,312.2C301.6,312.8 303,310.1 304.3,309.2C305.6,308.3 308,306.1 309.4,306.2C310.8,306.3 312.7,308.1 314.2,310C315.7,311.9 318.3,316.3 319.7,319.3C321.1,322.3 323.1,329.2 324.4,331C325.7,332.8 327.6,332.1 329,332.3C330.4,332.5 333.2,331.5 334.6,332.3C336,333.1 338.2,335.8 339.2,337.9C340.2,340 341.6,345.9 342,347.2" stroke="#ffaa00"/>
<path d="M423.1,277.8C423.5,275.3 425.2,264.5 426,260C426.8,255.5 427.9,249 429,245.7C430.1,242.4 432.5,237.2 433.7,237C434.9,236.8 436.5,241.2 437.4,244.1C438.3,247 439.2,254.3 440,257.6C440.8,260.9 442.4,264.6 443.3,267.7C444.2,270.8 446,276.3 446.7,279.5C447.4,282.7 447.6,284.7 448.4,290C449.2,295.3 451.4,310 452.4,316.9C453.4,323.8 454.8,333.3 455.7,338.9C456.6,344.5 458,354.4 459.1,356.6C460.2,358.8 462.2,355.3 463.3,354.1C464.4,352.9 465.6,349.1 466.7,348.1C467.8,347.1 469.8,347.3 470.9,347.3C472,347.3 473.5,347.8 474.7,348.4C475.9,349 478.3,351.1 479.5,351.3C480.7,351.5 481.8,350.1 483,349.6C484.2,349.1 486.4,349.1 487.7,347.8C489,346.5 491.2,342.2 492.5,340.1C493.8,338 496,334.6 497.2,333C498.4,331.4 500.3,329.2 501.3,328.9C502.3,328.6 503.4,329.7 504.3,330.6C505.2,331.5 506.8,334.6 507.8,335.4C508.8,336.2 510.1,336.5 511.4,336C512.7,335.5 515.6,333.2 517.3,331.8C519,330.4 521.7,326.9 523.2,325.9C524.7,324.9 526.7,325.2 527.9,324.7C529.1,324.2 530.6,323.1 531.5,322.4C532.4,321.7 533.4,321.6 534.4,320C535.4,318.4 537.3,313.4 538.9,311.3C540.5,309.2 544,306.4 545.7,305.3C547.4,304.2 549.6,302.9 550.7,303.6C551.8,304.3 552.9,309.4 553.3,310.4" stroke="#ffaa00"/>
<path d="M558.5,322C558.8,322.4 559.6,326.1 560.5,325C561.4,323.9 563.8,318 565.1,314.5C566.4,311 568.6,303.5 569.8,300.4C571,297.3 572.5,293.3 573.7,292.8C574.9,292.3 577,295.4 578.5,297C580,298.6 582.1,301.9 584,304C585.9,306.1 590.1,311.1 591.7,311.9C593.3,312.7 594.4,308.7 595.5,309.4C596.6,310.1 597.9,315.2 599.3,317C600.7,318.8 603.8,320.7 605.6,322.1C607.4,323.5 610.1,324.2 611.9,327.1C613.7,330 616.7,341.6 618.3,342.3C619.9,343 621.9,334 623.3,332.2C624.7,330.4 627,329.3 628.4,329.7C629.8,330.1 632.1,332.2 633.5,334.7C634.9,337.2 637.1,343.8 638.5,347.4C639.9,351 642.2,357.2 643.6,360.1C645,363 647.1,365.5 648.7,367.6C650.3,369.7 653.4,374.7 655,375.2C656.6,375.7 658.7,372.6 660.1,371.4C661.5,370.2 663.5,366.2 665.1,366.4C666.7,366.6 669.9,370.5 671.5,372.7C673.1,374.9 675.1,379.3 676.5,381.6C677.9,383.9 680.5,387.6 681.6,389.2C682.7,390.8 684,392.5 684.4,393" stroke="#ffaa00"/>
<path d="M121.9,382.5C122.5,381 124.9,374.5 126,371.9C127.1,369.3 128.9,365.9 130,363.8C131.1,361.7 133,358.3 134.1,357C135.2,355.7 137.1,354.4 138.1,354.3C139.1,354.2 140.7,355.4 141.5,356.4C142.3,357.4 142.9,359.1 143.5,361.1C144.1,363.1 145,369.4 145.9,370.5C146.8,371.6 148.6,368.8 150,368.6C151.4,368.4 154.3,369.2 156,369.2C157.7,369.2 160.6,369.3 162,368.8C163.4,368.3 165.3,366.4 166.2,365.6C167,364.8 167.7,363.4 168,363" stroke="#ff0000"/>
<path d="M174.5,360C174.8,360.1 175.6,360.9 176.3,360.5C177,360.1 178.4,358.6 179.4,357.5C180.4,356.4 182.4,354.3 183.4,352.4C184.4,350.5 185.7,346.6 186.5,344.3C187.3,342 188.3,338.6 189,336.2C189.7,333.8 190.8,328.2 191.5,327.6C192.2,327 193.2,331 193.6,332.2C194,333.4 194,335.9 194.6,336.2C195.2,336.5 196.5,335 197.6,334.2C198.7,333.4 201.4,331.5 202.7,330.6C204,329.7 205.7,329 206.7,328.1C207.7,327.2 209.2,326 210,324.1C210.8,322.2 211.8,316.9 212.6,314.5C213.4,312.1 215.1,307.6 215.9,307C216.8,306.4 217.7,309.5 218.6,310.4C219.5,311.3 220.9,313.7 222,313.1C223.1,312.5 225,308.5 226.1,306.4C227.2,304.3 229,300.4 230.1,298.2C231.2,296 233.2,292.1 234.2,290.8C235.2,289.5 236.1,288.5 236.9,288.8C237.7,289.1 238.8,291.9 239.6,292.8C240.4,293.7 241,294.7 242.3,295.5C243.6,296.3 247.4,297.5 249.1,298.2C250.8,298.9 253.1,299.3 254.5,300.3C255.9,301.3 258.2,304.7 259.2,305C260.2,305.3 261,303.1 261.9,302.3C262.8,301.5 264.3,299.8 265.3,299.6C266.3,299.4 268.3,299.9 269.3,300.9C270.3,301.9 271.9,305 272.7,306.4C273.5,307.8 273.8,309.1 274.6,310.6C275.4,312.1 277.4,315.6 278.5,317C279.6,318.4 281,320.7 282.2,320.5C283.4,320.3 286.1,316 287.2,315.5C288.3,315 289.1,315.7 290.1,317.3C291.1,318.9 293.1,323.3 294.4,327C295.7,330.7 298,338.4 299.3,343.4C300.6,348.4 302.9,359.5 303.9,362C304.9,364.5 305.8,361.4 306.7,361.1C307.6,360.8 309.3,359.9 310.4,360.2C311.5,360.5 313,361.4 314.2,363C315.4,364.6 317.5,368.3 318.8,371.3C320.1,374.3 322.2,380.7 323.4,384.3C324.6,387.9 326.1,395.6 327.2,396.4C328.3,397.2 329.7,391.7 330.9,389.9C332.1,388.1 334.8,384.3 335.5,383.4" stroke="#ff0000"/>
<path d="M399.5,296C399.7,295.1 400.3,293.3 401.1,290C401.9,286.7 404.3,277.4 405.3,272.8C406.3,268.2 407,261.1 407.9,257.6C408.8,254.1 410.5,250.1 411.3,248.3C412.1,246.5 413,244.5 413.8,244.9C414.6,245.3 416.3,248.1 417.2,250.8C418.1,253.5 419.7,260.5 420.5,264.3C421.3,268.1 422.4,274.2 423.1,277.8C423.8,281.4 425,286.9 425.6,290C426.2,293.1 426.3,296.2 427,300C427.7,303.8 429.2,309.7 430.4,316.9C431.6,324.1 434.1,342.1 435.5,350.7C436.9,359.3 439.3,375.5 440.5,377.7C441.7,379.9 442.9,369.2 443.9,365.9C444.9,362.6 446.3,356.4 447.3,354.1C448.3,351.8 449.7,350.2 450.7,349.8C451.7,349.4 453,350.7 454.1,351.5C455.2,352.3 457.2,355 458.3,355.7C459.4,356.4 460.6,356.4 461.7,356.6C462.8,356.8 464.7,357.6 465.9,357.4C467.1,357.2 468.8,355.8 470,354.9C471.2,354 473.4,352 474.7,351.3C476,350.6 478.3,349.8 479.5,350.2C480.7,350.6 482.1,352.7 483,354.3C483.9,355.9 485.2,361.1 486,361.4C486.8,361.7 487.8,358.5 488.9,356.7C490,354.9 492.3,350.5 493.6,348.4C494.9,346.3 497.2,343.2 498.4,341.9C499.6,340.6 500.9,339.3 501.9,339.5C502.9,339.7 504.5,341.8 505.5,343.1C506.5,344.4 507.8,348.9 509,349C510.2,349.1 512.5,345.4 513.8,343.6C515.1,341.8 517.2,338.3 518.5,336.6C519.8,334.9 521.7,332.8 523.2,331.8C524.7,330.8 527.9,329.3 529.1,329.5C530.3,329.7 530.8,331.3 531.5,333C532.2,334.7 533.2,339.4 533.9,341.3C534.6,343.2 535.3,345.6 536.2,346.6C537.1,347.6 538.9,348.5 540,348.4C541.1,348.3 542.8,348.4 544,345.9C545.2,343.4 546.9,335.4 548.2,330.7C549.5,326 552.1,314.7 553.3,312.9C554.5,311.1 555.8,316.2 556.7,318C557.6,319.8 558.9,323.6 560,325.6C561.1,327.6 563.1,330.8 564.3,332.4C565.5,334 567.3,336.6 568.5,336.6C569.7,336.6 571.7,334.4 572.7,332.4C573.7,330.4 574.9,322.6 575.7,322.6C576.5,322.6 577.6,330.4 578.6,332.4C579.6,334.4 581.6,335.9 582.8,337C584,338.1 585.6,338 587,340C588.4,342 591.3,347.3 592.9,351.2C594.5,355.1 596.7,366.9 598,367.6C599.3,368.3 600.5,359.2 601.8,356.3C603.1,353.4 605.5,347.9 606.9,347.4C608.3,346.9 610.3,349.4 611.9,352.5C613.5,355.6 616.7,365.2 618.3,369C619.9,372.8 621.5,376.4 623,379C624.5,381.6 627.3,385.6 629,387C630.7,388.4 633.4,389.9 635,389C636.6,388.1 638.7,382.6 640,381C641.3,379.4 643,377 644.5,378C646,379 648.8,385.4 650.5,388C652.2,390.6 654.6,395.2 656.5,396.5C658.4,397.8 662.8,396.9 663.8,397" stroke="#ff0000"/>
<path d="M101.6,409.7C101.9,408.8 103.2,404.7 104,403C104.8,401.3 105.8,399.5 107,397.6C108.2,395.7 111.1,391.4 112.4,389.5C113.7,387.6 115.4,385.1 116.5,384.1C117.6,383.1 119,382.6 119.9,382.7C120.8,382.8 121.9,383.8 122.6,384.7C123.3,385.6 123.8,388.1 124.6,388.8C125.4,389.5 127.3,389.4 128.6,389.5C129.9,389.6 132.6,389.4 134.1,389.5C135.6,389.6 138,390.3 139.5,390.1C141,389.9 143.6,388.9 144.9,388.1C146.2,387.3 147.8,384.9 148.9,384.7C150,384.5 151.9,386.7 153,386.8C154.1,386.9 156,386 157,385.4C158,384.8 159.1,383.7 160,382.7C160.9,381.7 162.5,380.1 163.4,378.5C164.3,376.9 165.6,373.7 166.4,371.4C167.2,369.1 168.5,364.6 169.2,362C169.9,359.4 170.7,353.9 171.3,353.4C171.9,352.9 172.8,357.6 173.3,358.5C173.8,359.4 174.3,359.8 174.5,360" stroke="#ff0000"/>
<path d="M222,313.1C223,313.5 227.1,314.8 228.8,315.8C230.5,316.8 232.9,318.6 234.2,319.9C235.5,321.2 237.3,324.4 238.2,325.3C239.1,326.2 239.7,327.2 240.3,326.6C240.9,326 241.5,322.3 242.3,321.2C243.1,320.1 244.7,318.5 245.7,318.5C246.7,318.5 248.1,320.2 249.1,321.2C250.1,322.2 251.9,324.1 253.1,325.3C254.3,326.5 256.7,329.5 257.8,330C258.9,330.5 260.3,328.5 261.2,328.6C262.1,328.7 263,328.8 263.9,330.7C264.8,332.6 266.4,337.6 267.6,342C268.8,346.4 271.2,356.8 272.6,362C274,367.2 276.5,375.6 277.7,379C278.9,382.4 280,384.7 281,386C282,387.3 283.3,388.5 284.5,388.1C285.7,387.7 288.2,383.8 289.5,383.4C290.8,383 292.4,384.1 293.7,385C295,385.9 297.1,387.6 298.4,389.9C299.7,392.2 301.7,397 303,401C304.3,405 306.4,416.2 307.7,417.8C309,419.4 310.6,413.8 312.3,412.2C314,410.6 317.6,407.8 319.7,406.6C321.8,405.4 325.6,404.3 327.2,403.8C328.8,403.3 330.4,403 330.9,402.9" stroke="#ff0000"/>
<path d="M380.5,310C381.1,306.7 383.4,291.6 384.4,286.9C385.4,282.2 386.5,279.1 387.4,276.8C388.3,274.5 390,270.9 391,270.7C392,270.5 393.6,273.1 394.5,275.7C395.4,278.3 396.8,285.3 397.6,288.9C398.4,292.5 399.2,298.3 400,301.1C400.8,303.9 402.2,303.8 403.4,308.4C404.6,313 406.8,325.9 408.4,333.8C410,341.7 412.7,355.1 414.4,364.2C416.1,373.3 418.9,395.6 420.3,398C421.7,400.4 423.3,384.1 424.5,381.1C425.7,378.1 427.4,377 428.7,376.9C430,376.8 432.2,379.3 433.8,380.2C435.4,381.1 438.3,383.1 439.7,383.6C441.1,384.1 442.3,384.2 443.9,383.6C445.5,383 448.8,380.7 450.7,379.4C452.6,378.1 455.6,375.6 457.4,374.3C459.2,373 461.9,370.9 463.3,370.1C464.7,369.3 466.7,368.8 467.6,368.4C468.5,368 469,368 470,367.3C471,366.6 473.4,364.5 474.7,363.8C476,363.1 477.7,362.3 478.9,362.6C480.1,362.9 481.9,364.6 483,366.1C484.1,367.6 485.7,371.5 486.6,373.2C487.5,374.9 488.5,377.6 489.5,377.9C490.5,378.2 492.3,376.9 493.6,375.6C494.9,374.3 497.1,370.9 498.4,368.5C499.7,366.1 501.8,361.5 503.1,359C504.4,356.5 506.8,352.1 507.8,350.7C508.8,349.3 509.4,348.1 510.2,349C511,349.9 512.8,354.6 513.8,356.7C514.8,358.8 516.3,362 517.3,363.8C518.3,365.6 519.8,368.5 520.8,369.7C521.8,370.9 523.4,372 524.4,372C525.4,372 527,371.2 527.9,369.7C528.8,368.2 530.1,364.2 530.9,361.4C531.7,358.6 532.5,350.4 533.3,349.6C534.1,348.8 535.3,353.8 536.2,355.5C537.1,357.2 538.7,359.9 540,361.4C541.3,362.9 544.3,365.9 545.7,366.1C547.1,366.3 548.8,364.5 549.9,362.8C551,361.1 552.5,356.9 553.3,354.3C554.1,351.7 554.9,344.2 555.5,344.2C556.1,344.2 556.9,351.4 557.8,354.3C558.7,357.2 560.6,362.1 561.7,364.5C562.8,366.9 564.6,369.7 565.9,371.2C567.2,372.7 569.5,373.5 571,375C572.5,376.5 575,381.4 576.5,382C578,382.6 579.9,379.9 581.4,379C582.9,378.1 585.6,375.8 587.3,376C589,376.2 591.6,378.5 593.3,380.7C595,382.9 597.7,387.8 599.2,391.3C600.7,394.8 602.6,402 603.9,405.5C605.2,409 607.3,414 608.6,416.2C609.9,418.4 612.1,420.7 613.4,420.9C614.7,421.1 616.8,419.5 618.1,417.3C619.4,415.1 621.1,407.2 622.4,405.5C623.7,403.8 626.2,404.7 627.6,405.5C629,406.3 631,409.4 632.3,411.4C633.6,413.4 635.4,417.5 637,419.7C638.6,421.9 642.5,426 643.4,427" stroke="#ff0000"/>
<path d="M82.1,436.9C82.7,435.6 84.7,430.5 86,428C87.3,425.5 89.7,421.7 91,419.1C92.3,416.6 93.9,411.6 95,410C96.1,408.4 97.7,408 98.6,407.7C99.5,407.4 100.9,406.4 101.6,407.7C102.3,409 102.9,414.3 103.7,416.6C104.5,418.9 106.1,422.6 107.5,424.2C108.9,425.8 112,427 113.8,428C115.6,429 118.9,431 120.1,431.3C121.3,431.6 121.7,430.2 122,430" stroke="#cc0000"/>
<path d="M135.7,409.7C136.5,409 139.8,406.5 141.1,404.8C142.4,403.1 144,399.7 145.1,397.7C146.2,395.7 148.2,391.6 148.7,390.6" stroke="#cc0000"/>
<path d="M172,363.5C172.5,363.9 174.7,365.7 175.6,366.3C176.5,366.9 177.6,368.1 178.6,367.8C179.6,367.5 181.7,365.4 182.7,364.3C183.7,363.2 185,361.2 186,360C187,358.8 188.4,356.7 189.5,355.5C190.6,354.3 192.6,351.7 193.6,351.4C194.6,351.1 195.6,352.9 196.6,353.4C197.6,353.9 199.3,354.8 200.7,355.2C202.1,355.6 204.9,355.7 206.7,356C208.5,356.3 211.6,357.5 213.6,357C215.6,356.5 219.2,353.9 220.6,352.8C222,351.7 222.9,349.2 223.8,349C224.7,348.8 226.1,350.5 227,351.5C227.9,352.5 229.1,354.2 230.5,356C231.9,357.8 235.3,362.8 237.2,364.5C239.1,366.2 242,365.9 243.9,367.8C245.8,369.7 248.8,374.6 250.7,378C252.6,381.4 255.7,386.7 257.4,391.5C259.1,396.3 261.3,407.5 262.5,411.8C263.7,416.1 264.7,421.9 265.9,421.9C267.1,421.9 269.2,412.5 270.9,411.8C272.6,411.1 275.8,413.9 277.7,416.8C279.6,419.7 283.1,427.7 284.5,432C285.9,436.3 286.6,446.2 287.8,447.2C289,448.2 291,440.7 292.9,438.8C294.8,436.9 298.8,434.4 301.4,433.7C304,433 309.1,433.7 311.5,433.7C313.9,433.7 317.3,433.7 318.2,433.7" stroke="#cc0000"/>
<path d="M361.1,333.5C361.7,329.5 364,311.1 365.1,305.1C366.2,299.1 368.1,293.7 369.2,291C370.3,288.3 372.1,285.6 373.2,285.9C374.3,286.2 376.3,290.3 377.3,293C378.3,295.7 379.4,301.1 380.3,305.1C381.2,309.1 382.5,316.5 383.4,321.4C384.3,326.3 385.5,335.7 386.4,340C387.2,344.3 388.3,346.9 389.4,352C390.5,357.1 392.9,368.6 394.1,376C395.3,383.4 396.8,398.6 397.6,404C398.5,409.4 399,413.2 400.1,414.1C401.2,415 403.4,411 405.2,410.3C407,409.6 410.5,409.1 412.8,409C415.1,408.9 419.5,409.6 421.7,409.5C423.9,409.4 426.2,408.9 428,408.5C429.8,408.1 432.6,407.1 434.4,406.5C436.2,405.9 439.1,404.2 440.7,404.4C442.3,404.6 444.2,407.1 445.8,407.7C447.4,408.3 450.3,408.7 452.1,408.5C453.9,408.3 456.6,406.1 458.4,406.5C460.2,406.9 463.5,410.4 464.8,411.5C466.1,412.6 466.4,415.2 467.3,414.5C468.2,413.8 470.1,408.6 471.1,406.5C472.1,404.4 473.2,402.5 474.3,400C475.4,397.5 477.6,391.3 478.7,389C479.8,386.7 480.8,385.1 482,384C483.2,382.9 485.9,380.6 487.3,381.1C488.7,381.6 490.6,385.4 492,387.5C493.4,389.6 495.9,394.2 497,396C498.1,397.8 498.8,399.7 500,400.5C501.2,401.3 503.8,402.3 505.3,401.4C506.8,400.5 509.1,395.8 510.4,393.8C511.7,391.8 512.9,388.2 514.2,387.5C515.5,386.8 517.5,388 519.3,388.7C521.1,389.4 525.2,392.6 526.9,392.5C528.6,392.4 529.9,389.4 531,388C532.1,386.6 533.5,381.8 534.5,382.4C535.5,383 536.9,389.9 538.3,392.5C539.7,395.1 543,398.8 544.6,401C546.2,403.2 547.8,405.5 549.5,407.9C551.2,410.3 554.9,417.3 556.6,418C558.3,418.7 559.8,414.4 561.3,412.6C562.8,410.8 565.7,406.2 567.2,405.5C568.7,404.8 570.8,405.9 572,407.9C573.2,409.9 574.5,415 575.5,419.7C576.5,424.4 578.1,437.3 579.1,441C580.1,444.7 581.1,444.7 582.6,445.7C584.1,446.7 587.7,448.6 589.7,448.1C591.7,447.6 595,443.7 596.8,442.2C598.6,440.7 601,437.7 602.7,437.5C604.4,437.3 606.9,439.5 608.6,441C610.3,442.5 613.1,445.7 614.6,448.1C616.1,450.5 618.1,454.9 619.3,457.6C620.5,460.3 622.5,465.7 623,467" stroke="#cc0000"/>
<path d="M42,507C42.7,505.2 45.4,497.8 47,494C48.6,490.2 51.4,483.7 53,480C54.6,476.3 56.9,472.5 58.5,468C60.1,463.5 62.7,452.9 64.4,448.3C66.1,443.7 69,437.9 70.7,435.6C72.4,433.3 74.9,431.8 76.3,431.8C77.7,431.8 79.6,433.8 80.8,435.6C82,437.4 83.3,442.6 84.6,444.5C85.9,446.4 88.4,448.1 89.7,449C91,449.9 92,451.2 93.5,451.2C95,451.2 98.2,449.8 100,449C101.8,448.2 104.6,445.6 106.2,445.3C107.8,445 109.7,447.1 111.3,446.6C112.9,446.1 116.2,443.6 117.6,441.5C119,439.4 120.4,435 121.4,431.8C122.4,428.6 123.7,422.2 124.4,419C125.1,415.8 125.6,412.4 126.5,409C127.4,405.6 129.6,395.5 130.5,394.8C131.4,394.1 132.1,401.8 132.8,403.9C133.5,406 135.3,408.9 135.7,409.7" stroke="#660000"/>
<path d="M150.2,395.7C150.6,396.3 151.8,398.8 152.7,399.8C153.6,400.8 155.2,402.8 156.3,402.8C157.4,402.8 159.1,401.7 160.4,399.8C161.7,397.9 164,392.5 165.4,389.6C166.8,386.7 169.1,381.9 170.5,379.5C171.9,377.1 174.3,373.2 175.6,372.9C176.9,372.6 178.5,376 179.6,377.5C180.7,379 182.6,382.6 183.7,383.5C184.8,384.4 186.3,384.4 187.3,384.2C188.3,384 189.9,382.8 191,382C192.1,381.2 193.8,380 194.9,378.6C196,377.2 197.8,373.7 199,372C200.2,370.3 202.2,366.4 203.6,366.5C205,366.6 207.7,371.1 208.9,372.6C210.1,374.1 210.9,374.8 212,377C213.1,379.2 215,385.7 216.5,387.8C218,389.9 221.3,390.8 222.5,391.6C223.7,392.4 224.2,392 225.3,393.2C226.4,394.4 228.8,398.1 230,400C231.2,401.9 232.3,402.6 233.8,406.7C235.3,410.8 239.1,423.6 240.5,428.6C241.9,433.6 242.5,441.1 243.9,442.2C245.3,443.3 248.8,436.1 250.7,436.1C252.6,436.1 255.7,439 257.4,442.2C259.1,445.4 261.2,454.3 262.5,459C263.8,463.7 265.7,474.3 266.9,475.3C268.1,476.3 269.4,467.9 270.9,465.8C272.4,463.7 275.8,460.9 277.7,460.7C279.6,460.5 282.8,462.2 284.5,464.1C286.2,466 288.1,474.1 289.5,474.3C290.9,474.5 292.7,468 294.6,465.8C296.5,463.6 300.6,460.2 303,459C305.4,457.8 309.6,459.3 311.5,457.4C313.4,455.5 314.7,450.5 316.6,445.5C318.5,440.5 322.6,429.1 325,421.9C327.4,414.7 331.2,404 333.4,394.9C335.6,385.8 338.3,367.8 340.2,357.7C342.1,347.6 345.2,330.5 347,323.9C348.8,317.3 351,311.6 352.7,311.1C354.4,310.6 357.2,315.3 358.8,320.5C360.4,325.7 362.5,339.5 363.9,347.6C365.3,355.7 367.5,368.4 368.9,378C370.3,387.6 372.6,406.5 374,415.1C375.4,423.7 377.7,437.4 379.1,438.8C380.5,440.2 382.7,427.5 384.1,425.3C385.5,423.1 387.6,423.2 389.2,423.6C390.8,424 393.6,426.8 395.1,428C396.6,429.2 398.9,431.6 400.1,431.8C401.3,432 402.5,430.2 403.9,429.3C405.3,428.4 408.3,426.6 410.3,425.5C412.3,424.4 416.1,421.5 417.9,421.7C419.7,421.9 421.6,425.3 423,426.7C424.4,428.1 426.4,431.3 428,431.8C429.6,432.3 432.6,431.2 434.4,430.5C436.2,429.8 439.1,427.9 440.7,426.7C442.3,425.5 444.5,421.9 445.8,421.7C447.1,421.5 448.4,425.5 449.6,425.5C450.8,425.5 453,423 454.6,421.7C456.2,420.4 459.4,417.5 461,416.6C462.6,415.7 464.6,415.3 466,415.3C467.4,415.3 469.3,416.2 471.1,416.6C472.9,417 476.7,417.7 478.7,417.9C480.7,418.1 483.1,418.8 485.1,417.9C487.1,417 490.7,412.2 492.7,411.5C494.7,410.8 497,412.3 499,412.8C501,413.3 504.4,414.8 506.6,415.3C508.8,415.8 512.8,416.6 514.2,416.6C515.6,416.6 515.6,414.6 516.7,415.3C517.8,416 520.2,420.4 521.8,421.7C523.4,423 526.5,423.1 528.1,424.2C529.7,425.3 531.9,427.3 533.2,429.3C534.5,431.3 535.9,437.6 537,438C538.1,438.4 539.9,432.9 541,432C542.1,431.1 543.8,431.2 545,432C546.2,432.8 548.2,435.2 549.5,437.5C550.8,439.8 552.9,445.3 554.2,448.1C555.5,450.9 557.2,454.9 558.9,457.6C560.6,460.3 564.1,464.3 566,467C567.9,469.7 570.5,474.8 572,476.5C573.5,478.2 575.4,479.2 576.7,478.9C578,478.6 579.9,475.4 581.4,474.1C582.9,472.8 585.6,469.9 587.3,469.4C589,468.9 591.8,469.9 593.3,470.6C594.8,471.3 596.7,473 598,474.1C599.3,475.2 601.9,477.9 602.5,478.5" stroke="#660000"/>
</g>
<g id="axes" stroke="#000" stroke-width="2.7" fill="none" stroke-linejoin="miter" stroke-linecap="square">
<polyline points="26.3,507 26.3,246.5 210.3,12 786.8,12 786.8,272.5" />
<polyline points="26.3,507 602.8,507 786.8,272.5" />
<line x1="170.4" y1="507" x2="170.4" y2="500"/>
<line x1="314.6" y1="507" x2="314.6" y2="500"/>
<line x1="458.7" y1="507" x2="458.7" y2="500"/>
<line x1="786.8" y1="272.5" x2="779.8" y2="272.5"/>
<line x1="786.8" y1="220.4" x2="779.8" y2="220.4"/>
<line x1="786.8" y1="168.3" x2="779.8" y2="168.3"/>
<line x1="786.8" y1="116.2" x2="779.8" y2="116.2"/>
<line x1="786.8" y1="64.1" x2="779.8" y2="64.1"/>
<line x1="766.3" y1="298.5" x2="759.3" y2="298.5"/>
<line x1="745.9" y1="324.6" x2="738.9" y2="324.6"/>
<line x1="725.4" y1="350.6" x2="718.4" y2="350.6"/>
<line x1="705" y1="376.7" x2="698" y2="376.7"/>
<line x1="684.6" y1="402.8" x2="677.6" y2="402.8"/>
<line x1="664.1" y1="428.8" x2="657.1" y2="428.8"/>
<line x1="643.7" y1="454.9" x2="636.7" y2="454.9"/>
<line x1="623.2" y1="480.9" x2="616.2" y2="480.9"/>
</g>
<g id="labels_a">
<text x="38.5" y="27.5" font-size="34" font-weight="bold">(a)</text>
<text x="26.3" y="536.5" font-size="28.5" text-anchor="middle">1250</text>
<text x="170.4" y="536.5" font-size="28.5" text-anchor="middle">1300</text>
<text x="314.6" y="536.5" font-size="28.5" text-anchor="middle">1350</text>
<text x="458.7" y="536.5" font-size="28.5" text-anchor="middle">1400</text>
<text x="602.8" y="536.5" font-size="28.5" text-anchor="middle">1450</text>
<text x="201" y="586" font-size="28.2" font-weight="bold">Raman Shift <tspan font-weight="normal" font-size="25">(</tspan>cm<tspan font-size="19" dy="-11">-1</tspan><tspan font-weight="normal" font-size="25" dy="11">)</tspan></text>
<text x="794" y="280" font-size="28">0</text>
<text x="794" y="227.9" font-size="28">2</text>
<text x="794" y="175.8" font-size="28">4</text>
<text x="794" y="123.7" font-size="28">6</text>
<text x="794" y="71.6" font-size="28">8</text>
<text x="794" y="19.5" font-size="28">10</text>
<text transform="translate(850.5,271.5) rotate(-90)" font-size="28" font-weight="bold">Intensity (a. u.) <tspan font-weight="normal">×</tspan>10<tspan font-size="18" dy="-11">3</tspan></text>
<text transform="matrix(1,0,-0.6,0.8,807.8,285.5)" font-size="27.5" text-anchor="middle">1</text>
<text transform="matrix(1,0,-0.6,0.8,787.3,311.5)" font-size="27.5" text-anchor="middle">2</text>
<text transform="matrix(1,0,-0.6,0.8,766.9,337.6)" font-size="27.5" text-anchor="middle">3</text>
<text transform="matrix(1,0,-0.6,0.8,746.4,363.6)" font-size="27.5" text-anchor="middle">4</text>
<text transform="matrix(1,0,-0.6,0.8,726,389.7)" font-size="27.5" text-anchor="middle">5</text>
<text transform="matrix(1,0,-0.6,0.8,705.6,415.8)" font-size="27.5" text-anchor="middle">6</text>
<text transform="matrix(1,0,-0.6,0.8,685.1,441.8)" font-size="27.5" text-anchor="middle">7</text>
<text transform="matrix(1,0,-0.6,0.8,664.7,467.9)" font-size="27.5" text-anchor="middle">8</text>
<text transform="matrix(1,0,-0.6,0.8,644.2,493.9)" font-size="27.5" text-anchor="middle">9</text>
<text transform="matrix(0.6172,-0.7868,1,0,716.5,479.5)" font-size="28.3" font-weight="bold">Spectrum Number</text>
</g>
<g id="panel_b">
<rect x="976.9" y="111.5" width="48.6" height="381.9" fill="#fdcc95"/>
<rect x="1036.2" y="162.6" width="48.6" height="330.8" fill="#fdcc95"/>
<rect x="1095.5" y="126.4" width="48.6" height="367" fill="#fdcc95"/>
<rect x="1154.7" y="117.2" width="48.6" height="376.2" fill="#fdcc95"/>
<rect x="1214" y="138.7" width="48.6" height="354.7" fill="#fdcc95"/>
<rect x="1273.3" y="158.4" width="48.6" height="335" fill="#fdcc95"/>
<rect x="1332.6" y="140.2" width="48.6" height="353.2" fill="#fdcc95"/>
<rect x="1391.9" y="129.9" width="48.6" height="363.5" fill="#fdcc95"/>
<rect x="1451.1" y="125.5" width="48.6" height="367.9" fill="#fdcc95"/>
<rect x="1510.4" y="139.4" width="48.6" height="354" fill="#fdcc95"/>
<line x1="970.5" y1="135.2" x2="1563" y2="135.2" stroke="#000" stroke-width="3.3" stroke-dasharray="17 15.86"/>
<rect x="972.2" y="15.2" width="591.5" height="478.2" fill="none" stroke="#000" stroke-width="3"/>
<line x1="972.2" y1="493.4" x2="981.2" y2="493.4" stroke="#000" stroke-width="3"/>
<text x="961" y="503.9" font-size="31.5" text-anchor="end">0</text>
<line x1="972.2" y1="406.5" x2="981.2" y2="406.5" stroke="#000" stroke-width="3"/>
<text x="961" y="417" font-size="31.5" text-anchor="end">2</text>
<line x1="972.2" y1="319.6" x2="981.2" y2="319.6" stroke="#000" stroke-width="3"/>
<text x="961" y="330.1" font-size="31.5" text-anchor="end">4</text>
<line x1="972.2" y1="232.7" x2="981.2" y2="232.7" stroke="#000" stroke-width="3"/>
<text x="961" y="243.2" font-size="31.5" text-anchor="end">6</text>
<line x1="972.2" y1="145.8" x2="981.2" y2="145.8" stroke="#000" stroke-width="3"/>
<text x="961" y="156.3" font-size="31.5" text-anchor="end">8</text>
<line x1="972.2" y1="58.9" x2="981.2" y2="58.9" stroke="#000" stroke-width="3"/>
<text x="961" y="69.4" font-size="31.5" text-anchor="end">10</text>
<line x1="1001.2" y1="493.4" x2="1001.2" y2="484.4" stroke="#000" stroke-width="3"/>
<text x="1001.2" y="527.6" font-size="31.5" text-anchor="middle">1</text>
<line x1="1060.5" y1="493.4" x2="1060.5" y2="484.4" stroke="#000" stroke-width="3"/>
<text x="1060.5" y="527.6" font-size="31.5" text-anchor="middle">2</text>
<line x1="1119.8" y1="493.4" x2="1119.8" y2="484.4" stroke="#000" stroke-width="3"/>
<text x="1119.8" y="527.6" font-size="31.5" text-anchor="middle">3</text>
<line x1="1179" y1="493.4" x2="1179" y2="484.4" stroke="#000" stroke-width="3"/>
<text x="1179" y="527.6" font-size="31.5" text-anchor="middle">4</text>
<line x1="1238.3" y1="493.4" x2="1238.3" y2="484.4" stroke="#000" stroke-width="3"/>
<text x="1238.3" y="527.6" font-size="31.5" text-anchor="middle">5</text>
<line x1="1297.6" y1="493.4" x2="1297.6" y2="484.4" stroke="#000" stroke-width="3"/>
<text x="1297.6" y="527.6" font-size="31.5" text-anchor="middle">6</text>
<line x1="1356.9" y1="493.4" x2="1356.9" y2="484.4" stroke="#000" stroke-width="3"/>
<text x="1356.9" y="527.6" font-size="31.5" text-anchor="middle">7</text>
<line x1="1416.2" y1="493.4" x2="1416.2" y2="484.4" stroke="#000" stroke-width="3"/>
<text x="1416.2" y="527.6" font-size="31.5" text-anchor="middle">8</text>
<line x1="1475.4" y1="493.4" x2="1475.4" y2="484.4" stroke="#000" stroke-width="3"/>
<text x="1475.4" y="527.6" font-size="31.5" text-anchor="middle">9</text>
<line x1="1534.7" y1="493.4" x2="1534.7" y2="484.4" stroke="#000" stroke-width="3"/>
<text x="1534.7" y="527.6" font-size="31.5" text-anchor="middle">10</text>
<text x="892.5" y="27.5" font-size="34" font-weight="bold">(b)</text>
<text x="1076" y="77" font-size="31.7">RSD = 4.5%</text>
<rect x="1371" y="31" width="50" height="25" fill="#fdcc95"/>
<text x="1434.5" y="52.5" font-size="31">1368 cm<tspan font-size="20" dy="-13">-1</tspan></text>
<text x="1264" y="579.7" font-size="31.6" font-weight="bold" text-anchor="middle">Spectrum Number</text>
<text transform="translate(918,394) rotate(-90)" font-size="31.5" font-weight="bold">Intensity (a. u.) <tspan font-weight="normal">×</tspan>10<tspan font-size="21" dy="-13">3</tspan></text>
</g>
</svg></body></html>
